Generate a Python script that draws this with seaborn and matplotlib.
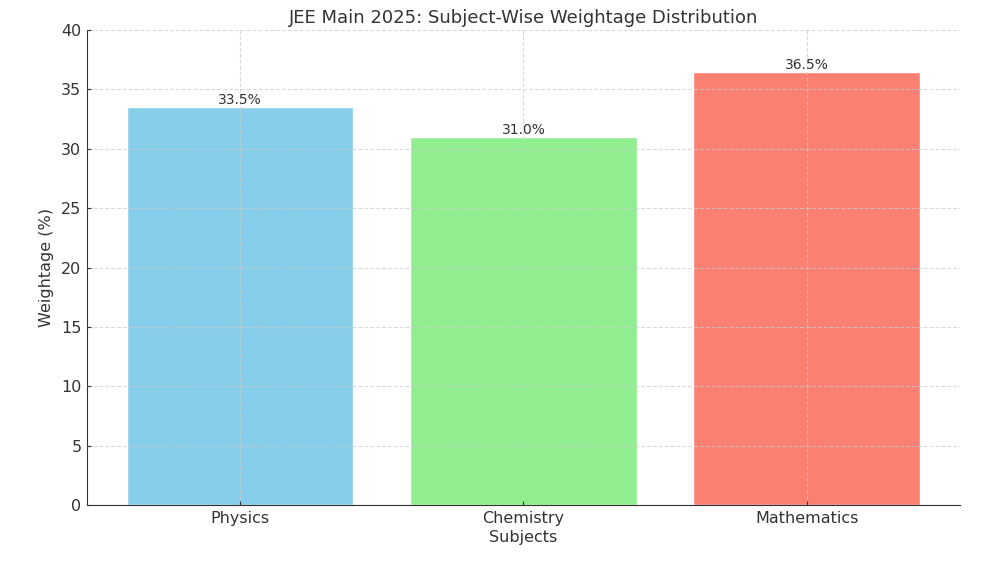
import pandas as pd
import matplotlib.pyplot as plt
import seaborn as sns

# Data
subjects = ["Physics", "Chemistry", "Mathematics"]
weightage = [33.5, 31.0, 36.5]
bar_colors = ["skyblue", "lightgreen", "salmon"]

sns.set_style("white")
plt.rcParams['font.family'] = ['DejaVu Sans']

df = pd.DataFrame({"Subject": subjects, "Weightage": weightage})

fig = plt.figure(figsize=(10.03, 5.62), dpi=100)
ax = fig.add_axes([0.0867, 0.1014, 0.8703, 0.8452])

sns.barplot(data=df, x="Subject", y="Weightage", hue="Subject",
            palette=bar_colors, width=0.8, saturation=1, legend=False, ax=ax)

for p, val in zip(ax.patches, weightage):
    ax.text(p.get_x() + p.get_width() / 2, p.get_height(), f"{val}%",
            ha="center", va="bottom", fontsize=10, color="#333333")

ax.set_xlim(-0.54, 2.54)
ax.set_ylim(0, 40)
ax.set_title("JEE Main 2025: Subject-Wise Weightage Distribution", fontsize=13, color="#333333", pad=5)
ax.set_xlabel("Subjects", fontsize=11.5, color="#333333", labelpad=3)
ax.set_ylabel("Weightage (%)", fontsize=11.5, color="#333333", labelpad=5)
ax.tick_params(axis="both", labelsize=11.5, colors="#333333", left=True, bottom=True,
               direction="in", length=3, pad=4)

ax.set_axisbelow(False)
ax.grid(True, linestyle="--", color="#cccccc", alpha=0.7, linewidth=0.8)
for s in ["top", "right"]:
    ax.spines[s].set_visible(False)
for s in ["left", "bottom"]:
    ax.spines[s].set_color("#333333")

fig.savefig("out.png", dpi=100)
